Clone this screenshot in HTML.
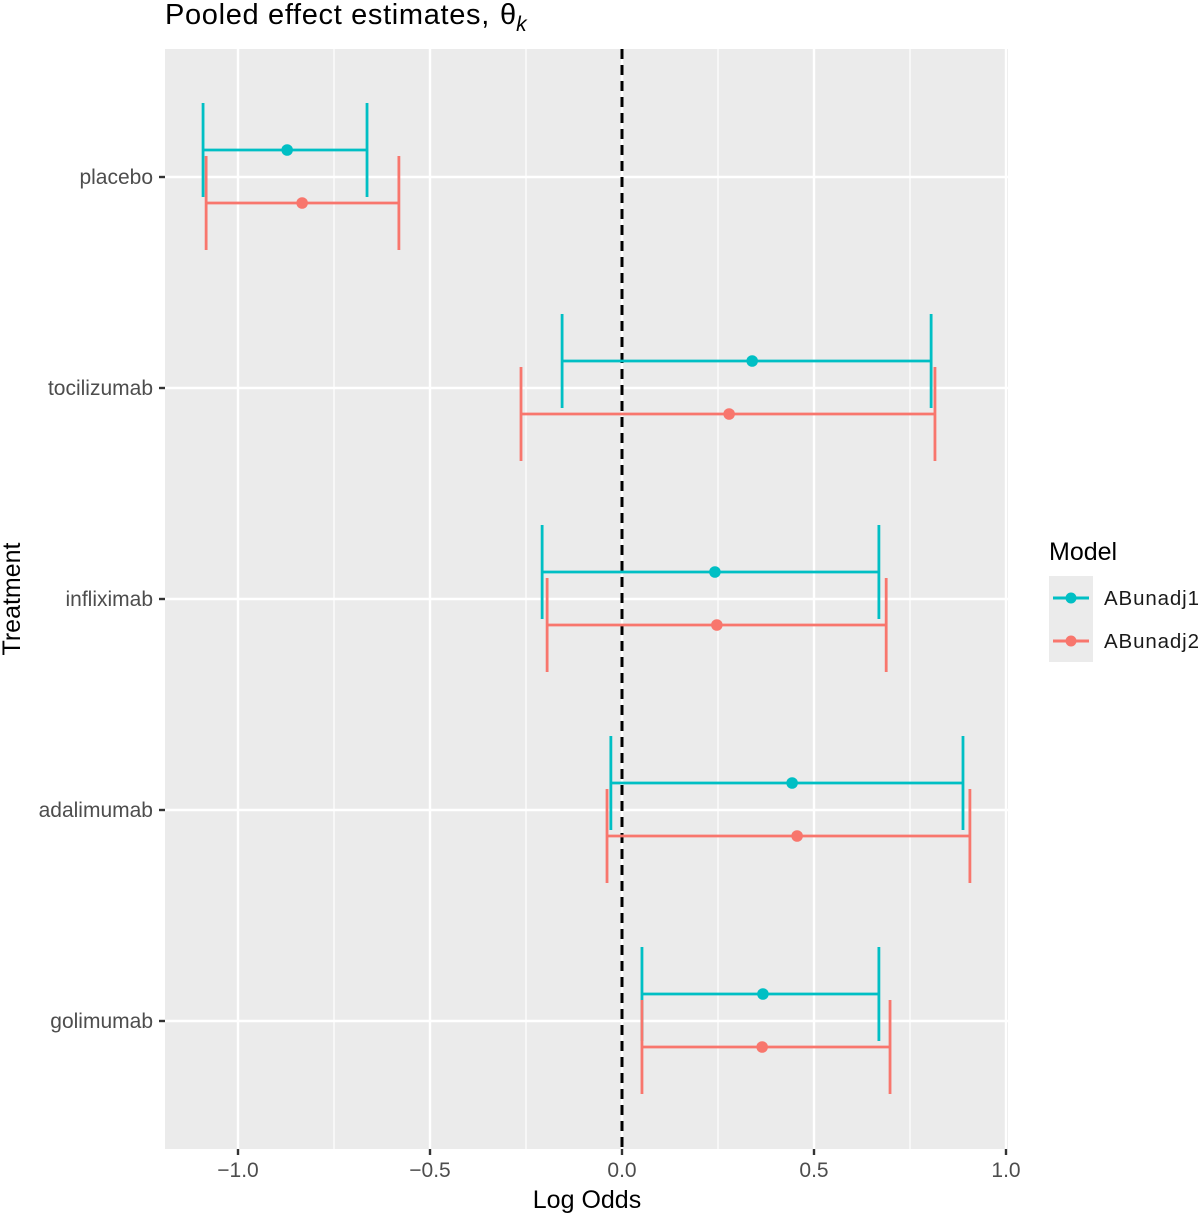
<!DOCTYPE html>
<html><head><meta charset="utf-8"><style>
html,body{margin:0;padding:0;background:#fff;}
svg{display:block;font-family:"Liberation Sans",Arial,sans-serif;}
</style></head><body>
<svg id="chart" width="1200" height="1214" viewBox="0 0 1200 1214" xmlns="http://www.w3.org/2000/svg">
<text x="165" y="24" font-size="29" fill="#000"><tspan textLength="333" lengthAdjust="spacing">Pooled effect estimates, </tspan><tspan x="500">θ</tspan><tspan font-size="21" dy="7" font-style="italic">k</tspan></text>
<rect x="165" y="49" width="843" height="1100" fill="#ebebeb"/>
<g id="grid"></g>
<g id="marks"></g>
<g id="axes"></g>
<text x="587" y="1208" font-size="25" text-anchor="middle" fill="#000">Log Odds</text>
<text transform="translate(20,599) rotate(-90)" font-size="25" text-anchor="middle" fill="#000">Treatment</text>
<g>
<text x="1049" y="560" font-size="25" fill="#000">Model</text>
<rect x="1049" y="576" width="44" height="86" fill="#ebebeb"/>
<g>
<line x1="1053" x2="1089" y1="598" y2="598" stroke="#00bfc4" stroke-width="3"/>
<circle cx="1071" cy="598" r="5.5" fill="#00bfc4"/>
<text x="1104" y="605" font-size="20.5" fill="#1a1a1a" textLength="95">ABunadj1</text></g>
<g>
<line x1="1053" x2="1089" y1="641" y2="641" stroke="#f8766d" stroke-width="3"/>
<circle cx="1071" cy="641" r="5.5" fill="#f8766d"/>
<text x="1104" y="648" font-size="20.5" fill="#1a1a1a" textLength="95">ABunadj2</text></g>
</g>
</svg>
<script>
const treatments=["placebo","tocilizumab","infliximab","adalimumab","golimumab"];
const lo1=[-1.091,-0.156,-0.208,-0.029,0.052];
const est1=[-0.872,0.339,0.242,0.443,0.367];
const hi1=[-0.664,0.805,0.669,0.888,0.669];
const lo2=[-1.083,-0.263,-0.195,-0.039,0.052];
const est2=[-0.833,0.279,0.247,0.456,0.365];
const hi2=[-0.581,0.815,0.688,0.906,0.698];
const xTicks=[-1.0,-0.5,0.0,0.5,1.0];
const xTickLabels=["\u22121.0","\u22120.5","0.0","0.5","1.0"];
const xMinor=[-0.75,-0.25,0.25,0.75];

const NS="http://www.w3.org/2000/svg";
const X=v=>622+v*384;
const Y=i=>177+i*211;
function mk(tag,attrs,parent){const e=document.createElementNS(NS,tag);for(const k in attrs)e.setAttribute(k,attrs[k]);parent.appendChild(e);return e;}
const grid=document.getElementById('grid'),marks=document.getElementById('marks'),axes=document.getElementById('axes');
xMinor.forEach(v=>{const l=mk('line',{x1:X(v),x2:X(v),y1:49,y2:1149,stroke:'#fff','stroke-width':1.2},grid);

});
xTicks.forEach((v,i)=>{const l=mk('line',{x1:X(v),x2:X(v),y1:49,y2:1149,stroke:'#fff','stroke-width':2.4},grid);


const t=mk('line',{x1:X(v),x2:X(v),y1:1149,y2:1155,stroke:'#333','stroke-width':2.4},axes);


const tx=mk('text',{x:X(v),y:1177,'font-size':21,'text-anchor':'middle',fill:'#4d4d4d'},axes);
tx.textContent=xTickLabels[i];

});
treatments.forEach((n,i)=>{const l=mk('line',{x1:165,x2:1008,y1:Y(i),y2:Y(i),stroke:'#fff','stroke-width':2.4},grid);


const t=mk('line',{x1:159,x2:165,y1:Y(i),y2:Y(i),stroke:'#333','stroke-width':2.4},axes);


const tx=mk('text',{x:153,y:Y(i)+7,'font-size':21,'text-anchor':'end',fill:'#4d4d4d'},axes);
tx.textContent=n;

});
const ref=mk('line',{x1:X(0),x2:X(0),y1:49,y2:1149,stroke:'#000','stroke-width':3,'stroke-dasharray':'10,6'},marks);


function series(lo,est,hi,off,col,name){
 treatments.forEach((n,i)=>{const y=Y(i)+off;
 const g=mk('g',{},marks);
 
 
 mk('line',{x1:X(lo[i]),x2:X(hi[i]),y1:y,y2:y,stroke:col,'stroke-width':2.8},g);
 mk('line',{x1:X(lo[i]),x2:X(lo[i]),y1:y-47,y2:y+47,stroke:col,'stroke-width':2.8},g);
 mk('line',{x1:X(hi[i]),x2:X(hi[i]),y1:y-47,y2:y+47,stroke:col,'stroke-width':2.8},g);
 mk('circle',{cx:X(est[i]),cy:y,r:5.8,fill:col},g);});
}
series(lo1,est1,hi1,-27,'#00bfc4','errorbar-abunadj1');
series(lo2,est2,hi2,26,'#f8766d','errorbar-abunadj2');
</script>
</body></html>
